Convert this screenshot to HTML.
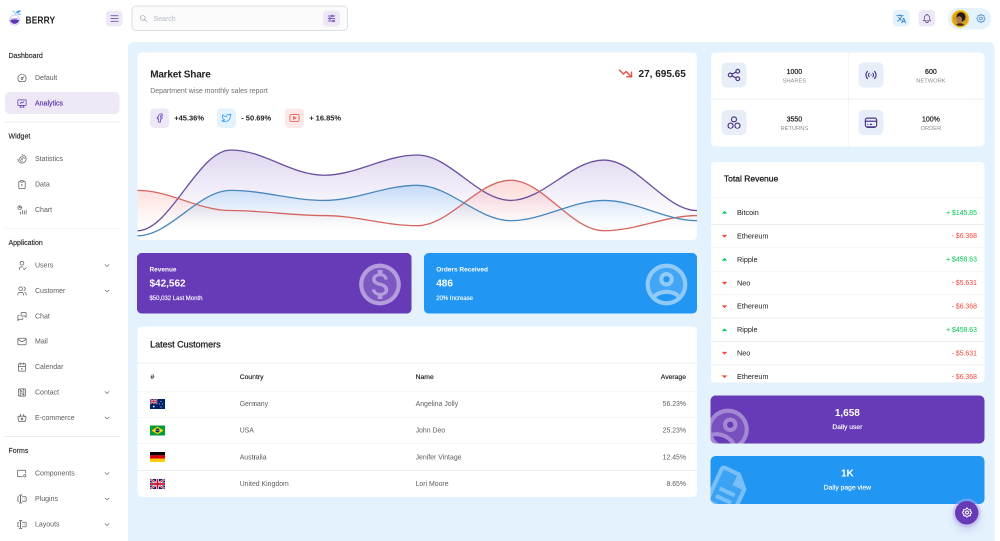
<!DOCTYPE html>
<html><head><meta charset="utf-8"><title>Berry - Analytics</title>
<style>
html,body{margin:0;padding:0;background:#fff;overflow:hidden;width:1000px;height:541px}
#w{position:absolute;left:0;top:0;width:2000px;height:1082px;transform:scale(0.5);transform-origin:0 0;overflow:hidden;will-change:transform;font-family:"Liberation Sans", Arial, sans-serif}
.t{position:absolute;line-height:1;white-space:nowrap}
.r{position:absolute}
.i{position:absolute;overflow:visible}
</style></head><body><div id="w">
<svg class="i" style="left:14px;top:16px" width="32" height="38" viewBox="0 0 32 38">
<circle cx="15.2" cy="24.2" r="10.2" fill="#fff" stroke="#c5cae9" stroke-width="1.6"/>
<path d="M6.2 24.5 Q15.2 20.5 24.2 24.5 A9.2 9.2 0 0 1 6.2 24.5z" fill="#5e35b1"/>
<path d="M7 22.5 Q15.2 19 23.4 22.5" fill="none" stroke="#b39ddb" stroke-width="1.4"/>
<path d="M15.5 14 L19 8" stroke="#90caf9" stroke-width="1.8" stroke-linecap="round"/>
<path d="M18 9.5 Q22 4 28 5 Q24 11 18 9.5z" fill="#1e88e5"/>
<path d="M19 11.5 Q24 10 28.5 12.5 Q23.5 15 19 11.5z" fill="#42a5f5"/>
<path d="M17 9 Q14 4.5 10 5.5 Q12.5 10 17 9z" fill="#90caf9"/>
</svg>
<div class="t" style="top:29.87px;font-size:20px;color:#212121;font-weight:700;left:51.00px;transform:scaleX(0.84);transform-origin:0 0;letter-spacing:0.3px;">BERRY</div>
<div class="r" style="left:212.00px;top:21.00px;width:33.00px;height:32.00px;background:#ede7f6;border-radius:8px;"></div>
<svg class="i" style="left:217.50px;top:26.00px;" width="22" height="22" viewBox="0 0 24 24" fill="none" stroke="#5a3e9e" stroke-width="1.9" stroke-linecap="round" stroke-linejoin="round"><path d="M4 6l16 0"/><path d="M4 12l16 0"/><path d="M4 18l16 0"/></svg>
<div class="r" style="left:263.00px;top:11.00px;width:433.00px;height:51.00px;background:#fbfbfc;border-radius:9px;border:2.5px solid #dcdfe4;box-sizing:border-box;"></div>
<svg class="i" style="left:279.00px;top:29.00px;" width="16" height="16" viewBox="0 0 24 24" fill="none" stroke="#8d96a3" stroke-width="1.8" stroke-linecap="round" stroke-linejoin="round"><path d="M10 10m-7 0a7 7 0 1 0 14 0a7 7 0 1 0 -14 0"/><path d="M21 21l-6 -6"/></svg>
<div class="t" style="top:30.15px;font-size:14px;color:#b4bcc7;left:307.00px;">Search</div>
<div class="r" style="left:646.00px;top:21.00px;width:34.00px;height:32.00px;background:#ede7f6;border-radius:8px;"></div>
<svg class="i" style="left:653.00px;top:27.00px;" width="20" height="20" viewBox="0 0 24 24" fill="none" stroke="#5e35b1" stroke-width="1.8" stroke-linecap="round" stroke-linejoin="round"><path d="M14 6m-2 0a2 2 0 1 0 4 0a2 2 0 1 0 -4 0"/><path d="M4 6l8 0"/><path d="M16 6l4 0"/><path d="M8 12m-2 0a2 2 0 1 0 4 0a2 2 0 1 0 -4 0"/><path d="M4 12l2 0"/><path d="M10 12l10 0"/><path d="M17 18m-2 0a2 2 0 1 0 4 0a2 2 0 1 0 -4 0"/><path d="M4 18l11 0"/><path d="M19 18l1 0"/></svg>
<div class="r" style="left:1786.00px;top:20.00px;width:33.00px;height:33.00px;background:#e3f2fd;border-radius:8px;"></div>
<svg class="i" style="left:1792.00px;top:26.50px;" width="21" height="21" viewBox="0 0 24 24" fill="#2a7fc9" stroke="none"><path d="M12.87 15.07l-2.54-2.51.03-.03c1.74-1.94 2.98-4.17 3.71-6.53H17V4h-7V2H8v2H1v1.99h11.17C11.5 7.92 10.44 9.75 9 11.35 8.07 10.32 7.3 9.19 6.69 8h-2c.73 1.63 1.73 3.17 2.98 4.56l-5.09 5.02L4 19l5-5 3.11 3.11.76-2.04zM18.5 10h-2L12 22h2l1.12-3h4.75L21 22h2l-4.5-12zm-2.62 7l1.62-4.33L19.12 17h-3.24z"/></svg>
<div class="r" style="left:1837.00px;top:20.00px;width:33.00px;height:33.00px;background:#ede7f6;border-radius:8px;"></div>
<svg class="i" style="left:1842.50px;top:26.00px;" width="22" height="22" viewBox="0 0 24 24" fill="none" stroke="#4f3a8f" stroke-width="1.5" stroke-linecap="round" stroke-linejoin="round"><path d="M10 5a2 2 0 1 1 4 0a7 7 0 0 1 4 6v3a4 4 0 0 0 2 3h-16a4 4 0 0 0 2 -3v-3a7 7 0 0 1 4 -6"/><path d="M9 17v1a3 3 0 0 0 6 0v-1"/></svg>
<div class="r" style="left:1895.60px;top:15.60px;width:86.40px;height:43.20px;background:#e3f2fd;border-radius:22px;"></div>
<svg class="i" style="left:1902.6px;top:19.6px" width="35" height="35" viewBox="0 0 35 35">
<defs><clipPath id="avc"><circle cx="17.5" cy="17.5" r="14.6"/></clipPath></defs>
<circle cx="17.5" cy="17.5" r="17.5" fill="#f2bb12"/>
<g clip-path="url(#avc)">
<rect width="35" height="35" fill="#d79f1c"/>
<ellipse cx="19" cy="14" rx="9" ry="9.5" fill="#231915"/>
<ellipse cx="15.5" cy="19.5" rx="5.6" ry="7" fill="#b27b5c"/>
<path d="M13 18 Q15.5 16.5 18 18" stroke="#6b4636" stroke-width="1" fill="none"/>
<path d="M4 36 Q8 26 17 26.5 Q26 26.5 31 36z" fill="#4a2f25"/>
</g>
</svg>
<svg class="i" style="left:1951.00px;top:26.00px;" width="22" height="22" viewBox="0 0 24 24" fill="none" stroke="#3f86c2" stroke-width="1.6" stroke-linecap="round" stroke-linejoin="round"><path d="M10.325 4.317c.426 -1.756 2.924 -1.756 3.35 0a1.724 1.724 0 0 0 2.573 1.066c1.543 -.94 3.31 .826 2.37 2.37a1.724 1.724 0 0 0 1.065 2.572c1.756 .426 1.756 2.924 0 3.35a1.724 1.724 0 0 0 -1.066 2.573c.94 1.543 -.826 3.31 -2.37 2.37a1.724 1.724 0 0 0 -2.572 1.065c-.426 1.756 -2.924 1.756 -3.35 0a1.724 1.724 0 0 0 -2.573 -1.066c-1.543 .94 -3.31 -.826 -2.37 -2.37a1.724 1.724 0 0 0 -1.065 -2.572c-1.756 -.426 -1.756 -2.924 0 -3.35a1.724 1.724 0 0 0 1.066 -2.573c-.94 -1.543 .826 -3.31 2.37 -2.37c1 .608 2.296 .07 2.572 -1.065z"/><path d="M9 12a3 3 0 1 0 6 0a3 3 0 0 0 -6 0"/></svg>
<div class="t" style="top:103.75px;font-size:14px;color:#2a2a2a;left:17.00px;-webkit-text-stroke:0.3px #2a2a2a;">Dashboard</div>
<svg class="i" style="left:33.00px;top:145.40px;" width="22" height="22" viewBox="0 0 24 24" fill="none" stroke="#5c5c5c" stroke-width="1.6" stroke-linecap="round" stroke-linejoin="round"><path d="M12 13m-2 0a2 2 0 1 0 4 0a2 2 0 1 0 -4 0"/><path d="M13.45 11.55l2.05 -2.05"/><path d="M6.4 20a9 9 0 1 1 11.2 0z"/></svg>
<div class="t" style="top:148.35px;font-size:14px;color:#5c5c5c;left:70.00px;">Default</div>
<div class="r" style="left:10.00px;top:184.00px;width:229.00px;height:44.00px;background:#ede7f6;border-radius:10px;"></div>
<svg class="i" style="left:33.00px;top:196.40px;" width="22" height="22" viewBox="0 0 24 24" fill="none" stroke="#5e35b1" stroke-width="1.6" stroke-linecap="round" stroke-linejoin="round"><path d="M3 4m0 1a1 1 0 0 1 1 -1h16a1 1 0 0 1 1 1v10a1 1 0 0 1 -1 1h-16a1 1 0 0 1 -1 -1z"/><path d="M7 20l10 0"/><path d="M9 16l0 4"/><path d="M15 16l0 4"/><path d="M8 12l3 -3l2 2l3 -3"/></svg>
<div class="t" style="top:199.35px;font-size:14px;color:#5e35b1;left:70.00px;-webkit-text-stroke:0.3px #5e35b1;">Analytics</div>
<div class="r" style="left:8.00px;top:243.40px;width:232.00px;height:1.50px;background:#eaedf1;border-radius:0px;"></div>
<div class="t" style="top:265.35px;font-size:14px;color:#2a2a2a;left:17.00px;-webkit-text-stroke:0.3px #2a2a2a;">Widget</div>
<svg class="i" style="left:33.00px;top:307.20px;" width="22" height="22" viewBox="0 0 24 24" fill="none" stroke="#5c5c5c" stroke-width="1.6" stroke-linecap="round" stroke-linejoin="round"><path d="M12 12m-1 0a1 1 0 1 0 2 0a1 1 0 1 0 -2 0"/><path d="M16.924 11.132a5 5 0 1 0 -4.056 5.792"/><path d="M3 12a9 9 0 1 0 9 -9"/></svg>
<div class="t" style="top:310.15px;font-size:14px;color:#5c5c5c;left:70.00px;">Statistics</div>
<svg class="i" style="left:33.00px;top:358.00px;" width="22" height="22" viewBox="0 0 24 24" fill="none" stroke="#5c5c5c" stroke-width="1.6" stroke-linecap="round" stroke-linejoin="round"><path d="M9 5h-2a2 2 0 0 0 -2 2v12a2 2 0 0 0 2 2h10a2 2 0 0 0 2 -2v-12a2 2 0 0 0 -2 -2h-2"/><path d="M9 3m0 2a2 2 0 0 1 2 -2h2a2 2 0 0 1 2 2v0a2 2 0 0 1 -2 2h-2a2 2 0 0 1 -2 -2z"/><path d="M11 12h1v4"/></svg>
<div class="t" style="top:360.95px;font-size:14px;color:#5c5c5c;left:70.00px;">Data</div>
<svg class="i" style="left:33.00px;top:409.00px;" width="22" height="22" viewBox="0 0 24 24" fill="none" stroke="#5c5c5c" stroke-width="1.6" stroke-linecap="round" stroke-linejoin="round"><path d="M7 7m-4 0a4 4 0 1 0 8 0a4 4 0 1 0 -8 0"/><path d="M7 3v4h4"/><path d="M9 17l0 4"/><path d="M17 14l0 7"/><path d="M13 13l0 8"/><path d="M21 12l0 9"/></svg>
<div class="t" style="top:411.95px;font-size:14px;color:#5c5c5c;left:70.00px;">Chart</div>
<div class="r" style="left:8.00px;top:456.60px;width:232.00px;height:1.50px;background:#eaedf1;border-radius:0px;"></div>
<div class="t" style="top:477.75px;font-size:14px;color:#2a2a2a;left:17.00px;-webkit-text-stroke:0.3px #2a2a2a;">Application</div>
<svg class="i" style="left:33.00px;top:519.80px;" width="22" height="22" viewBox="0 0 24 24" fill="none" stroke="#5c5c5c" stroke-width="1.6" stroke-linecap="round" stroke-linejoin="round"><path d="M8 7a4 4 0 1 0 8 0a4 4 0 0 0 -8 0"/><path d="M6 21v-2a4 4 0 0 1 4 -4h4"/><path d="M15 19l2 2l4 -4"/></svg>
<div class="t" style="top:522.75px;font-size:14px;color:#5c5c5c;left:70.00px;">Users</div>
<svg class="i" style="left:206.40px;top:522.80px;" width="16" height="16" viewBox="0 0 24 24" fill="none" stroke="#616161" stroke-width="1.8" stroke-linecap="round" stroke-linejoin="round"><path d="M6 9l6 6l6 -6"/></svg>
<svg class="i" style="left:33.00px;top:570.60px;" width="22" height="22" viewBox="0 0 24 24" fill="none" stroke="#5c5c5c" stroke-width="1.6" stroke-linecap="round" stroke-linejoin="round"><path d="M9 7m-4 0a4 4 0 1 0 8 0a4 4 0 1 0 -8 0"/><path d="M3 21v-2a4 4 0 0 1 4 -4h4a4 4 0 0 1 4 4v2"/><path d="M16 3.13a4 4 0 0 1 0 7.75"/><path d="M21 21v-2a4 4 0 0 0 -3 -3.85"/></svg>
<div class="t" style="top:573.55px;font-size:14px;color:#5c5c5c;left:70.00px;">Customer</div>
<svg class="i" style="left:206.40px;top:573.60px;" width="16" height="16" viewBox="0 0 24 24" fill="none" stroke="#616161" stroke-width="1.8" stroke-linecap="round" stroke-linejoin="round"><path d="M6 9l6 6l6 -6"/></svg>
<svg class="i" style="left:33.00px;top:621.60px;" width="22" height="22" viewBox="0 0 24 24" fill="none" stroke="#5c5c5c" stroke-width="1.6" stroke-linecap="round" stroke-linejoin="round"><path d="M21 14l-3 -3h-7a1 1 0 0 1 -1 -1v-6a1 1 0 0 1 1 -1h9a1 1 0 0 1 1 1v10"/><path d="M14 15v2a1 1 0 0 1 -1 1h-7l-3 3v-10a1 1 0 0 1 1 -1h2"/></svg>
<div class="t" style="top:624.55px;font-size:14px;color:#5c5c5c;left:70.00px;">Chat</div>
<svg class="i" style="left:33.00px;top:672.40px;" width="22" height="22" viewBox="0 0 24 24" fill="none" stroke="#5c5c5c" stroke-width="1.6" stroke-linecap="round" stroke-linejoin="round"><path d="M3 7a2 2 0 0 1 2 -2h14a2 2 0 0 1 2 2v10a2 2 0 0 1 -2 2h-14a2 2 0 0 1 -2 -2v-10z"/><path d="M3 7l9 6l9 -6"/></svg>
<div class="t" style="top:675.35px;font-size:14px;color:#5c5c5c;left:70.00px;">Mail</div>
<svg class="i" style="left:33.00px;top:723.40px;" width="22" height="22" viewBox="0 0 24 24" fill="none" stroke="#5c5c5c" stroke-width="1.6" stroke-linecap="round" stroke-linejoin="round"><path d="M4 7a2 2 0 0 1 2 -2h12a2 2 0 0 1 2 2v12a2 2 0 0 1 -2 2h-12a2 2 0 0 1 -2 -2v-12z"/><path d="M16 3v4"/><path d="M8 3v4"/><path d="M4 11h16"/><path d="M11 15h1"/><path d="M12 15v3"/></svg>
<div class="t" style="top:726.35px;font-size:14px;color:#5c5c5c;left:70.00px;">Calendar</div>
<svg class="i" style="left:33.00px;top:774.20px;" width="22" height="22" viewBox="0 0 24 24" fill="none" stroke="#5c5c5c" stroke-width="1.6" stroke-linecap="round" stroke-linejoin="round"><path d="M11 20a3 3 0 0 1 -3 -3v-11l5 5"/><path d="M13 4a3 3 0 0 1 3 3v11l-5 -5"/><path d="M4 4m0 3a3 3 0 0 1 3 -3h10a3 3 0 0 1 3 3v10a3 3 0 0 1 -3 3h-10a3 3 0 0 1 -3 -3z"/></svg>
<div class="t" style="top:777.15px;font-size:14px;color:#5c5c5c;left:70.00px;">Contact</div>
<svg class="i" style="left:206.40px;top:777.20px;" width="16" height="16" viewBox="0 0 24 24" fill="none" stroke="#616161" stroke-width="1.8" stroke-linecap="round" stroke-linejoin="round"><path d="M6 9l6 6l6 -6"/></svg>
<svg class="i" style="left:33.00px;top:825.20px;" width="22" height="22" viewBox="0 0 24 24" fill="none" stroke="#5c5c5c" stroke-width="1.6" stroke-linecap="round" stroke-linejoin="round"><path d="M10 14a2 2 0 1 0 4 0a2 2 0 0 0 -4 0"/><path d="M5.001 8h13.999a2 2 0 0 1 1.977 2.304l-1.255 7.152a3 3 0 0 1 -2.966 2.544h-9.512a3 3 0 0 1 -2.965 -2.544l-1.255 -7.152a2 2 0 0 1 1.977 -2.304z"/><path d="M17 10l-2 -6"/><path d="M7 10l2 -6"/></svg>
<div class="t" style="top:828.15px;font-size:14px;color:#5c5c5c;left:70.00px;">E-commerce</div>
<svg class="i" style="left:206.40px;top:828.20px;" width="16" height="16" viewBox="0 0 24 24" fill="none" stroke="#616161" stroke-width="1.8" stroke-linecap="round" stroke-linejoin="round"><path d="M6 9l6 6l6 -6"/></svg>
<div class="r" style="left:8.00px;top:872.40px;width:232.00px;height:1.50px;background:#eaedf1;border-radius:0px;"></div>
<div class="t" style="top:894.15px;font-size:14px;color:#2a2a2a;left:17.00px;-webkit-text-stroke:0.3px #2a2a2a;">Forms</div>
<svg class="i" style="left:33.00px;top:936.00px;" width="22" height="22" viewBox="0 0 24 24" fill="none" stroke="#5c5c5c" stroke-width="1.6" stroke-linecap="round" stroke-linejoin="round"><path d="M20 11v-4a2 2 0 0 0 -2 -2h-14a2 2 0 0 0 -2 2v10a2 2 0 0 0 2 2h9"/><path d="M18 17m-2.5 0a2.5 2.5 0 1 0 5 0a2.5 2.5 0 1 0 -5 0"/></svg>
<div class="t" style="top:938.95px;font-size:14px;color:#5c5c5c;left:70.00px;">Components</div>
<svg class="i" style="left:206.40px;top:939.00px;" width="16" height="16" viewBox="0 0 24 24" fill="none" stroke="#616161" stroke-width="1.8" stroke-linecap="round" stroke-linejoin="round"><path d="M6 9l6 6l6 -6"/></svg>
<svg class="i" style="left:33.00px;top:986.80px;" width="22" height="22" viewBox="0 0 24 24" fill="none" stroke="#5c5c5c" stroke-width="1.6" stroke-linecap="round" stroke-linejoin="round"><path d="M12 3a3 3 0 0 0 -3 3v12a3 3 0 0 0 3 3"/><path d="M6 3a3 3 0 0 1 3 3v12a3 3 0 0 1 -3 3"/><path d="M13 7h7a1 1 0 0 1 1 1v8a1 1 0 0 1 -1 1h-7"/><path d="M5 7h-1a1 1 0 0 0 -1 1v8a1 1 0 0 0 1 1h1"/><path d="M17 12h.01"/><path d="M13 12h.01"/></svg>
<div class="t" style="top:989.75px;font-size:14px;color:#5c5c5c;left:70.00px;">Plugins</div>
<svg class="i" style="left:206.40px;top:989.80px;" width="16" height="16" viewBox="0 0 24 24" fill="none" stroke="#616161" stroke-width="1.8" stroke-linecap="round" stroke-linejoin="round"><path d="M6 9l6 6l6 -6"/></svg>
<svg class="i" style="left:33.00px;top:1037.80px;" width="22" height="22" viewBox="0 0 24 24" fill="none" stroke="#5c5c5c" stroke-width="1.6" stroke-linecap="round" stroke-linejoin="round"><path d="M12 3a3 3 0 0 0 -3 3v12a3 3 0 0 0 3 3"/><path d="M6 3a3 3 0 0 1 3 3v12a3 3 0 0 1 -3 3"/><path d="M13 7h7a1 1 0 0 1 1 1v8a1 1 0 0 1 -1 1h-7"/><path d="M5 7h-1a1 1 0 0 0 -1 1v8a1 1 0 0 0 1 1h1"/><path d="M17 12h.01"/><path d="M13 12h.01"/></svg>
<div class="t" style="top:1040.75px;font-size:14px;color:#5c5c5c;left:70.00px;">Layouts</div>
<svg class="i" style="left:206.40px;top:1040.80px;" width="16" height="16" viewBox="0 0 24 24" fill="none" stroke="#616161" stroke-width="1.8" stroke-linecap="round" stroke-linejoin="round"><path d="M6 9l6 6l6 -6"/></svg>
<div class="r" style="left:256.00px;top:84.00px;width:1733.20px;height:1100.00px;background:#e3f2fd;border-radius:12px;border-bottom-left-radius:0;border-bottom-right-radius:0;"></div>
<div class="r" style="left:275px;top:104.6px;width:1119.4px;height:375.4px;background:#fff;border-radius:8px;overflow:hidden">
<svg style="position:absolute;left:0;top:0" width="1119.4" height="375.4" viewBox="0 0 1119.4 375.4"><defs><linearGradient id="g0" x1="0" y1="0" x2="0" y2="1"><stop offset="0" stop-color="#673ab7" stop-opacity="0.2"/><stop offset="0.35" stop-color="#673ab7" stop-opacity="0.11"/><stop offset="0.6" stop-color="#673ab7" stop-opacity="0.04"/><stop offset="0.8" stop-color="#673ab7" stop-opacity="0"/></linearGradient><linearGradient id="g1" x1="0" y1="0" x2="0" y2="1"><stop offset="0" stop-color="#f44336" stop-opacity="0.2"/><stop offset="0.35" stop-color="#f44336" stop-opacity="0.11"/><stop offset="0.6" stop-color="#f44336" stop-opacity="0.04"/><stop offset="0.8" stop-color="#f44336" stop-opacity="0"/></linearGradient><linearGradient id="g2" x1="0" y1="0" x2="0" y2="1"><stop offset="0" stop-color="#2196f3" stop-opacity="0.2"/><stop offset="0.35" stop-color="#2196f3" stop-opacity="0.11"/><stop offset="0.6" stop-color="#2196f3" stop-opacity="0.04"/><stop offset="0.8" stop-color="#2196f3" stop-opacity="0"/></linearGradient></defs><path d="M0.00 356.44 C65.30 356.44 121.27 194.98 186.57 194.98 C251.87 194.98 307.84 245.44 373.13 245.44 C438.43 245.44 494.40 205.07 559.70 205.07 C625.00 205.07 680.97 295.89 746.27 295.89 C811.57 295.89 867.54 215.16 932.83 215.16 C998.13 215.16 1054.10 316.07 1119.40 316.07 L1119.40 375.40 L0 375.40z" fill="url(#g0)"/><path d="M0.00 275.71 C65.30 275.71 121.27 316.07 186.57 316.07 C251.87 316.07 307.84 326.16 373.13 326.16 C438.43 326.16 494.40 346.35 559.70 346.35 C625.00 346.35 680.97 255.53 746.27 255.53 C811.57 255.53 867.54 356.44 932.83 356.44 C998.13 356.44 1054.10 326.16 1119.40 326.16 L1119.40 375.40 L0 375.40z" fill="url(#g1)"/><path d="M0.00 366.53 C65.30 366.53 121.27 275.71 186.57 275.71 C251.87 275.71 307.84 295.89 373.13 295.89 C438.43 295.89 494.40 265.62 559.70 265.62 C625.00 265.62 680.97 336.25 746.27 336.25 C811.57 336.25 867.54 295.89 932.83 295.89 C998.13 295.89 1054.10 336.25 1119.40 336.25 L1119.40 375.40 L0 375.40z" fill="url(#g2)"/><path d="M0.00 356.44 C65.30 356.44 121.27 194.98 186.57 194.98 C251.87 194.98 307.84 245.44 373.13 245.44 C438.43 245.44 494.40 205.07 559.70 205.07 C625.00 205.07 680.97 295.89 746.27 295.89 C811.57 295.89 867.54 215.16 932.83 215.16 C998.13 215.16 1054.10 316.07 1119.40 316.07" fill="none" stroke="#6a509c" stroke-width="2.6"/><path d="M0.00 275.71 C65.30 275.71 121.27 316.07 186.57 316.07 C251.87 316.07 307.84 326.16 373.13 326.16 C438.43 326.16 494.40 346.35 559.70 346.35 C625.00 346.35 680.97 255.53 746.27 255.53 C811.57 255.53 867.54 356.44 932.83 356.44 C998.13 356.44 1054.10 326.16 1119.40 326.16" fill="none" stroke="#d6655d" stroke-width="2.6"/><path d="M0.00 366.53 C65.30 366.53 121.27 275.71 186.57 275.71 C251.87 275.71 307.84 295.89 373.13 295.89 C438.43 295.89 494.40 265.62 559.70 265.62 C625.00 265.62 680.97 336.25 746.27 336.25 C811.57 336.25 867.54 295.89 932.83 295.89 C998.13 295.89 1054.10 336.25 1119.40 336.25" fill="none" stroke="#4888bd" stroke-width="2.6"/></svg>
</div>
<div class="t" style="top:138.47px;font-size:20px;color:#212121;font-weight:700;left:300.40px;letter-spacing:-0.4px;">Market Share</div>
<div class="t" style="top:174.15px;font-size:14px;color:#707070;left:300.40px;">Department wise monthly sales report</div>
<svg class="i" style="left:1235.00px;top:130.50px;" width="32" height="32" viewBox="0 0 24 24" fill="none" stroke="#e0524a" stroke-width="2.1" stroke-linecap="round" stroke-linejoin="round"><path d="M3 7l6 6l4 -4l8 8"/><path d="M21 10l0 7l-7 0"/></svg>
<div class="t" style="top:137.47px;font-size:20px;color:#212121;font-weight:700;right:628.40px;text-align:right;">27, 695.65</div>
<div class="r" style="left:300.40px;top:216.60px;width:38.00px;height:38.00px;background:#ede7f6;border-radius:8px;"></div>
<svg class="i" style="left:308.40px;top:224.60px;" width="22" height="22" viewBox="0 0 24 24" fill="none" stroke="#673ab7" stroke-width="1.6" stroke-linecap="round" stroke-linejoin="round"><path d="M7 10v4h3v7h4v-7h3l1 -4h-4v-2a1 1 0 0 1 1 -1h3v-4h-3a5 5 0 0 0 -5 5v2h-3"/></svg>
<div class="t" style="top:228.30px;font-size:15px;color:#212121;font-weight:700;left:348.40px;">+45.36%</div>
<div class="r" style="left:434.40px;top:216.60px;width:38.00px;height:38.00px;background:#e3f2fd;border-radius:8px;"></div>
<svg class="i" style="left:442.40px;top:224.60px;" width="22" height="22" viewBox="0 0 24 24" fill="none" stroke="#2196f3" stroke-width="1.6" stroke-linecap="round" stroke-linejoin="round"><path d="M22 4.01c-1 .49 -1.98 .689 -3 .99c-1.121 -1.265 -2.783 -1.335 -4.38 -.737s-2.643 2.06 -2.62 3.737v1c-3.245 .083 -6.135 -1.395 -8 -4c0 0 -4.182 7.433 4 11c-1.872 1.247 -3.739 2.088 -6 2c3.308 1.803 6.913 2.423 10.034 1.517c3.58 -1.04 6.522 -3.723 7.651 -7.742a13.84 13.84 0 0 0 .497 -3.753c0 -.249 1.51 -2.772 1.818 -4.013z"/></svg>
<div class="t" style="top:228.30px;font-size:15px;color:#212121;font-weight:700;left:482.40px;">- 50.69%</div>
<div class="r" style="left:570.40px;top:216.60px;width:38.00px;height:38.00px;background:#fde8e7;border-radius:8px;"></div>
<svg class="i" style="left:578.40px;top:224.60px;" width="22" height="22" viewBox="0 0 24 24" fill="none" stroke="#f44336" stroke-width="1.6" stroke-linecap="round" stroke-linejoin="round"><path d="M2 8a4 4 0 0 1 4 -4h12a4 4 0 0 1 4 4v8a4 4 0 0 1 -4 4h-12a4 4 0 0 1 -4 -4v-8z"/><path d="M10 9l5 3l-5 3z"/></svg>
<div class="t" style="top:228.30px;font-size:15px;color:#212121;font-weight:700;left:618.40px;">+ 16.85%</div>
<div class="r" style="left:274.40px;top:506.20px;width:548.80px;height:121.00px;background:#673ab7;border-radius:9px;overflow:hidden"></div>
<div class="t" style="top:532.00px;font-size:13px;color:#fff;font-weight:700;left:298.90px;">Revenue</div>
<div class="t" style="top:555.67px;font-size:20px;color:#fff;font-weight:700;left:298.90px;">$42,562</div>
<div class="t" style="top:589.64px;font-size:12px;color:#fff;left:298.90px;-webkit-text-stroke:0.25px #fff;">$50,032 Last Month</div>
<svg class="i" style="left:710.00px;top:518.60px;opacity:0.5" width="100" height="100" viewBox="0 0 24 24" fill="#fff" stroke="none"><path opacity=".3" d="M12 4c-4.41 0-8 3.59-8 8s3.59 8 8 8 8-3.59 8-8-3.59-8-8-8zm1.23 13.33V19H10.9v-1.69c-1.5-.31-2.77-1.28-2.86-2.97h1.71c.09.92.72 1.64 2.32 1.64 1.71 0 2.1-.86 2.1-1.39 0-.73-.39-1.41-2.34-1.87-2.17-.52-3.66-1.42-3.66-3.21 0-1.51 1.22-2.48 2.72-2.81V5h2.34v1.71c1.63.39 2.44 1.63 2.49 2.97h-1.71c-.04-.97-.56-1.64-1.94-1.64-1.31 0-2.1.59-2.1 1.43 0 .73.57 1.22 2.34 1.67 1.77.46 3.66 1.22 3.66 3.42-.01 1.6-1.21 2.48-2.74 2.77z"/><path d="M12 2C6.48 2 2 6.48 2 12s4.48 10 10 10 10-4.48 10-10S17.52 2 12 2zm0 18c-4.41 0-8-3.59-8-8s3.59-8 8-8 8 3.59 8 8-3.59 8-8 8zm.31-8.86c-1.77-.45-2.34-.94-2.34-1.67 0-.84.79-1.43 2.1-1.43 1.38 0 1.9.66 1.94 1.64h1.71c-.05-1.34-.87-2.57-2.49-2.97V5H10.9v1.69c-1.51.32-2.72 1.3-2.72 2.81 0 1.79 1.49 2.69 3.66 3.21 1.95.46 2.34 1.15 2.34 1.87 0 .53-.39 1.39-2.1 1.39-1.6 0-2.23-.72-2.32-1.64H8.04c.1 1.7 1.36 2.66 2.86 2.97V19h2.34v-1.67c1.52-.29 2.72-1.16 2.73-2.77-.01-2.2-1.9-2.96-3.66-3.42z"/></svg>
<div class="r" style="left:848.00px;top:506.20px;width:546.40px;height:121.00px;background:#2196f3;border-radius:9px;overflow:hidden"></div>
<div class="t" style="top:532.00px;font-size:13px;color:#fff;font-weight:700;left:872.50px;">Orders Received</div>
<div class="t" style="top:555.67px;font-size:20px;color:#fff;font-weight:700;left:872.50px;">486</div>
<div class="t" style="top:589.64px;font-size:12px;color:#fff;left:872.50px;-webkit-text-stroke:0.25px #fff;">20% Increase</div>
<svg class="i" style="left:1282.80px;top:518.60px;opacity:0.5" width="100" height="100" viewBox="0 0 24 24" fill="#fff" stroke="none"><path opacity=".3" d="M12 4c-4.42 0-8 3.58-8 8 0 1.95.7 3.73 1.86 5.12C7.55 15.8 9.68 15 12 15s4.45.8 6.14 2.12C19.3 15.73 20 13.95 20 12c0-4.42-3.58-8-8-8zm0 9c-1.93 0-3.5-1.57-3.5-3.5S10.07 6 12 6s3.5 1.57 3.5 3.5S13.93 13 12 13z"/><path d="M12 2C6.48 2 2 6.48 2 12s4.48 10 10 10 10-4.48 10-10S17.52 2 12 2zM7.07 18.28c.43-.9 3.05-1.78 4.93-1.78s4.51.88 4.93 1.78C15.57 19.36 13.86 20 12 20s-3.57-.64-4.93-1.72zm11.29-1.45c-1.43-1.74-4.9-2.33-6.36-2.33s-4.93.59-6.36 2.33C4.62 15.49 4 13.82 4 12c0-4.41 3.59-8 8-8s8 3.59 8 8c0 1.82-.62 3.49-1.64 4.83zM12 6c-1.94 0-3.5 1.56-3.5 3.5S10.06 13 12 13s3.5-1.56 3.5-3.5S13.94 6 12 6zm0 5c-.83 0-1.5-.67-1.5-1.5S11.17 8 12 8s1.5.67 1.5 1.5S12.83 11 12 11z"/></svg>
<div class="r" style="left:275.00px;top:653.20px;width:1119.40px;height:340.60px;background:#fff;border-radius:8px;"></div>
<div class="t" style="top:680.36px;font-size:18px;color:#212121;left:300.20px;-webkit-text-stroke:0.55px #212121;">Latest Customers</div>
<div class="r" style="left:275.00px;top:725.20px;width:1119.40px;height:1.50px;background:#eaedf1;border-radius:0px;"></div>
<div class="t" style="top:747.09px;font-size:13.6px;color:#212121;left:301.00px;-webkit-text-stroke:0.35px #212121;">#</div>
<div class="t" style="top:747.09px;font-size:13.6px;color:#212121;left:479.40px;-webkit-text-stroke:0.35px #212121;">Country</div>
<div class="t" style="top:747.09px;font-size:13.6px;color:#212121;left:831.20px;-webkit-text-stroke:0.35px #212121;">Name</div>
<div class="t" style="top:747.09px;font-size:13.6px;color:#212121;right:628.00px;text-align:right;-webkit-text-stroke:0.35px #212121;">Average</div>
<div class="r" style="left:275.00px;top:781.65px;width:1119.40px;height:1.50px;background:#eaedf1;border-radius:0px;"></div>
<div class="r" style="left:275.00px;top:834.85px;width:1119.40px;height:1.50px;background:#eaedf1;border-radius:0px;"></div>
<div class="r" style="left:275.00px;top:886.85px;width:1119.40px;height:1.50px;background:#eaedf1;border-radius:0px;"></div>
<div class="r" style="left:275.00px;top:940.05px;width:1119.40px;height:1.50px;background:#eaedf1;border-radius:0px;"></div>
<svg class="i" style="left:300px;top:797.8px" width="30" height="20" viewBox="0 0 30 20"><rect width="30" height="20" fill="#012169"/><path d="M0 0L15 10M15 0L0 10" stroke="#fff" stroke-width="2"/><path d="M0 0L15 10M15 0L0 10" stroke="#c8102e" stroke-width="1"/><path d="M7.5 0v10M0 5h15" stroke="#fff" stroke-width="3"/><path d="M7.5 0v10M0 5h15" stroke="#c8102e" stroke-width="1.6"/><circle cx="7.5" cy="15" r="1.8" fill="#fff"/><circle cx="22" cy="5" r="1" fill="#fff"/><circle cx="25" cy="10" r="1" fill="#fff"/><circle cx="22" cy="16" r="1.1" fill="#fff"/><circle cx="19" cy="10" r="0.9" fill="#fff"/></svg>
<div class="t" style="top:801.12px;font-size:13.8px;color:#5e5e5e;left:479.40px;">Germany</div>
<div class="t" style="top:801.12px;font-size:13.8px;color:#5e5e5e;left:831.20px;">Angelina Jolly</div>
<div class="t" style="top:801.12px;font-size:13.8px;color:#5e5e5e;right:628.00px;text-align:right;">56.23%</div>
<svg class="i" style="left:300px;top:851.0px" width="30" height="20" viewBox="0 0 30 20"><rect width="30" height="20" fill="#009c3b"/><path d="M15 2.5L27 10L15 17.5L3 10z" fill="#ffdf00"/><circle cx="15" cy="10" r="4.3" fill="#002776"/><path d="M11 9.2Q15 8.2 19 10.6" stroke="#fff" stroke-width="0.8" fill="none"/></svg>
<div class="t" style="top:854.32px;font-size:13.8px;color:#5e5e5e;left:479.40px;">USA</div>
<div class="t" style="top:854.32px;font-size:13.8px;color:#5e5e5e;left:831.20px;">John Deo</div>
<div class="t" style="top:854.32px;font-size:13.8px;color:#5e5e5e;right:628.00px;text-align:right;">25.23%</div>
<svg class="i" style="left:300px;top:904.2px" width="30" height="20" viewBox="0 0 30 20"><rect width="30" height="6.67" fill="#000"/><rect y="6.67" width="30" height="6.67" fill="#dd0000"/><rect y="13.33" width="30" height="6.67" fill="#ffce00"/></svg>
<div class="t" style="top:907.52px;font-size:13.8px;color:#5e5e5e;left:479.40px;">Australia</div>
<div class="t" style="top:907.52px;font-size:13.8px;color:#5e5e5e;left:831.20px;">Jenifer Vintage</div>
<div class="t" style="top:907.52px;font-size:13.8px;color:#5e5e5e;right:628.00px;text-align:right;">12.45%</div>
<svg class="i" style="left:300px;top:957.6px" width="30" height="20" viewBox="0 0 30 20"><rect width="30" height="20" fill="#012169"/><path d="M0 0L30 20M30 0L0 20" stroke="#fff" stroke-width="4"/><path d="M0 0L30 20M30 0L0 20" stroke="#c8102e" stroke-width="1.6"/><path d="M15 0v20M0 10h30" stroke="#fff" stroke-width="6"/><path d="M15 0v20M0 10h30" stroke="#c8102e" stroke-width="3.4"/></svg>
<div class="t" style="top:960.92px;font-size:13.8px;color:#5e5e5e;left:479.40px;">United Kingdom</div>
<div class="t" style="top:960.92px;font-size:13.8px;color:#5e5e5e;left:831.20px;">Lori Moore</div>
<div class="t" style="top:960.92px;font-size:13.8px;color:#5e5e5e;right:628.00px;text-align:right;">8.65%</div>
<div class="r" style="left:1422.00px;top:105.00px;width:546.80px;height:188.20px;background:#fff;border-radius:8px;"></div>
<div class="r" style="left:1422.00px;top:197.00px;width:546.00px;height:1.50px;background:#eaedf1;border-radius:0px;"></div>
<div class="r" style="left:1695.50px;top:105.00px;width:1.50px;height:188.20px;background:#eaedf1;border-radius:0px;"></div>
<div class="r" style="left:1443.40px;top:124.60px;width:50.00px;height:50.00px;background:#e8eef8;border-radius:10px;"></div>
<svg class="i" style="left:1453.40px;top:134.60px;" width="30" height="30" viewBox="0 0 24 24" fill="none" stroke="#4e3a8c" stroke-width="1.9" stroke-linecap="round" stroke-linejoin="round"><path d="M6 12m-3 0a3 3 0 1 0 6 0a3 3 0 1 0 -6 0"/><path d="M18 6m-3 0a3 3 0 1 0 6 0a3 3 0 1 0 -6 0"/><path d="M18 18m-3 0a3 3 0 1 0 6 0a3 3 0 1 0 -6 0"/><path d="M8.7 10.7l6.6 -3.4"/><path d="M8.7 13.3l6.6 3.4"/></svg>
<div class="t" style="top:135.75px;font-size:14px;color:#212121;left:1288.80px;width:600px;text-align:center;-webkit-text-stroke:0.45px #212121;">1000</div>
<div class="t" style="top:155.87px;font-size:11.5px;color:#8e8e8e;left:1288.80px;width:600px;text-align:center;">SHARES</div>
<div class="r" style="left:1717.40px;top:124.60px;width:50.00px;height:50.00px;background:#e8eef8;border-radius:10px;"></div>
<svg class="i" style="left:1727.40px;top:134.60px;" width="30" height="30" viewBox="0 0 24 24" fill="none" stroke="#4e3a8c" stroke-width="1.9" stroke-linecap="round" stroke-linejoin="round"><path d="M12 12l0 .01"/><path d="M14.828 9.172a4 4 0 0 1 0 5.656"/><path d="M17.657 6.343a8 8 0 0 1 0 11.314"/><path d="M9.168 14.828a4 4 0 0 1 0 -5.656"/><path d="M6.337 17.657a8 8 0 0 1 0 -11.314"/></svg>
<div class="t" style="top:135.75px;font-size:14px;color:#212121;left:1561.80px;width:600px;text-align:center;-webkit-text-stroke:0.45px #212121;">600</div>
<div class="t" style="top:155.87px;font-size:11.5px;color:#8e8e8e;left:1561.80px;width:600px;text-align:center;">NETWORK</div>
<div class="r" style="left:1443.40px;top:220.00px;width:50.00px;height:50.00px;background:#e8eef8;border-radius:10px;"></div>
<svg class="i" style="left:1453.40px;top:230.00px;" width="30" height="30" viewBox="0 0 24 24" fill="none" stroke="#4e3a8c" stroke-width="1.9" stroke-linecap="round" stroke-linejoin="round"><path d="M12 7m-4 0a4 4 0 1 0 8 0a4 4 0 1 0 -8 0"/><path d="M6.5 17m-4 0a4 4 0 1 0 8 0a4 4 0 1 0 -8 0"/><path d="M17.5 17m-4 0a4 4 0 1 0 8 0a4 4 0 1 0 -8 0"/></svg>
<div class="t" style="top:231.15px;font-size:14px;color:#212121;left:1288.80px;width:600px;text-align:center;-webkit-text-stroke:0.45px #212121;">3550</div>
<div class="t" style="top:251.27px;font-size:11.5px;color:#8e8e8e;left:1288.80px;width:600px;text-align:center;">RETURNS</div>
<div class="r" style="left:1717.40px;top:220.00px;width:50.00px;height:50.00px;background:#e8eef8;border-radius:10px;"></div>
<svg class="i" style="left:1727.40px;top:230.00px;" width="30" height="30" viewBox="0 0 24 24" fill="none" stroke="#4e3a8c" stroke-width="1.9" stroke-linecap="round" stroke-linejoin="round"><path d="M3 5m0 3a3 3 0 0 1 3 -3h12a3 3 0 0 1 3 3v8a3 3 0 0 1 -3 3h-12a3 3 0 0 1 -3 -3z"/><path d="M3 10l18 0"/><path d="M7 15l.01 0"/><path d="M11 15l2 0"/></svg>
<div class="t" style="top:231.15px;font-size:14px;color:#212121;left:1561.80px;width:600px;text-align:center;-webkit-text-stroke:0.45px #212121;">100%</div>
<div class="t" style="top:251.27px;font-size:11.5px;color:#8e8e8e;left:1561.80px;width:600px;text-align:center;">ORDER</div>
<div class="r" style="left:1422.00px;top:324.40px;width:546.80px;height:440.80px;background:#fff;border-radius:8px;overflow:hidden"></div>
<div class="t" style="top:349.41px;font-size:17px;color:#212121;left:1447.80px;-webkit-text-stroke:0.6px #212121;">Total Revenue</div>
<div class="r" style="left:1422.00px;top:393.60px;width:546.00px;height:1.50px;background:#eaedf1;border-radius:0px;"></div>
<svg class="i" style="left:1436.00px;top:412.20px;" width="26" height="26" viewBox="0 0 24 24" fill="#00c853" stroke="none"><path d="M7 14l5-5 5 5z"/></svg>
<div class="t" style="top:417.93px;font-size:14.5px;color:#212121;left:1474.00px;">Bitcoin</div>
<div class="t" style="top:418.56px;font-size:13.75px;color:#00c853;right:46.20px;text-align:right;">+ $145.85</div>
<div class="r" style="left:1422.00px;top:448.00px;width:546.00px;height:1.50px;background:#eaedf1;border-radius:0px;"></div>
<svg class="i" style="left:1436.00px;top:459.06px;" width="26" height="26" viewBox="0 0 24 24" fill="#f44336" stroke="none"><path d="M7 10l5 5 5-5z"/></svg>
<div class="t" style="top:464.79px;font-size:14.5px;color:#212121;left:1474.00px;">Ethereum</div>
<div class="t" style="top:465.42px;font-size:13.75px;color:#f44336;right:46.20px;text-align:right;">- $6.368</div>
<div class="r" style="left:1422.00px;top:494.86px;width:546.00px;height:1.50px;background:#eaedf1;border-radius:0px;"></div>
<svg class="i" style="left:1436.00px;top:505.92px;" width="26" height="26" viewBox="0 0 24 24" fill="#00c853" stroke="none"><path d="M7 14l5-5 5 5z"/></svg>
<div class="t" style="top:511.65px;font-size:14.5px;color:#212121;left:1474.00px;">Ripple</div>
<div class="t" style="top:512.28px;font-size:13.75px;color:#00c853;right:46.20px;text-align:right;">+ $458.63</div>
<div class="r" style="left:1422.00px;top:541.72px;width:546.00px;height:1.50px;background:#eaedf1;border-radius:0px;"></div>
<svg class="i" style="left:1436.00px;top:552.78px;" width="26" height="26" viewBox="0 0 24 24" fill="#f44336" stroke="none"><path d="M7 10l5 5 5-5z"/></svg>
<div class="t" style="top:558.51px;font-size:14.5px;color:#212121;left:1474.00px;">Neo</div>
<div class="t" style="top:559.14px;font-size:13.75px;color:#f44336;right:46.20px;text-align:right;">- $5.631</div>
<div class="r" style="left:1422.00px;top:588.58px;width:546.00px;height:1.50px;background:#eaedf1;border-radius:0px;"></div>
<svg class="i" style="left:1436.00px;top:599.64px;" width="26" height="26" viewBox="0 0 24 24" fill="#f44336" stroke="none"><path d="M7 10l5 5 5-5z"/></svg>
<div class="t" style="top:605.37px;font-size:14.5px;color:#212121;left:1474.00px;">Ethereum</div>
<div class="t" style="top:606.00px;font-size:13.75px;color:#f44336;right:46.20px;text-align:right;">- $6.368</div>
<div class="r" style="left:1422.00px;top:635.44px;width:546.00px;height:1.50px;background:#eaedf1;border-radius:0px;"></div>
<svg class="i" style="left:1436.00px;top:646.50px;" width="26" height="26" viewBox="0 0 24 24" fill="#00c853" stroke="none"><path d="M7 14l5-5 5 5z"/></svg>
<div class="t" style="top:652.23px;font-size:14.5px;color:#212121;left:1474.00px;">Ripple</div>
<div class="t" style="top:652.86px;font-size:13.75px;color:#00c853;right:46.20px;text-align:right;">+ $458.63</div>
<div class="r" style="left:1422.00px;top:682.30px;width:546.00px;height:1.50px;background:#eaedf1;border-radius:0px;"></div>
<svg class="i" style="left:1436.00px;top:693.36px;" width="26" height="26" viewBox="0 0 24 24" fill="#f44336" stroke="none"><path d="M7 10l5 5 5-5z"/></svg>
<div class="t" style="top:699.09px;font-size:14.5px;color:#212121;left:1474.00px;">Neo</div>
<div class="t" style="top:699.72px;font-size:13.75px;color:#f44336;right:46.20px;text-align:right;">- $5.631</div>
<div class="r" style="left:1422.00px;top:729.16px;width:546.00px;height:1.50px;background:#eaedf1;border-radius:0px;"></div>
<svg class="i" style="left:1436.00px;top:740.22px;" width="26" height="26" viewBox="0 0 24 24" fill="#f44336" stroke="none"><path d="M7 10l5 5 5-5z"/></svg>
<div class="t" style="top:745.95px;font-size:14.5px;color:#212121;left:1474.00px;">Ethereum</div>
<div class="t" style="top:746.58px;font-size:13.75px;color:#f44336;right:46.20px;text-align:right;">- $6.368</div>
<div class="r" style="left:1421.4px;top:791px;width:547.4px;height:96px;background:#673ab7;border-radius:10px;overflow:hidden">
<svg style="position:absolute;left:-15.5px;bottom:-22px;transform:rotate(25deg);opacity:0.4" width="100" height="100" viewBox="0 0 24 24" fill="#fff"><path opacity=".3" d="M12 4c-4.42 0-8 3.58-8 8 0 1.95.7 3.73 1.86 5.12C7.55 15.8 9.68 15 12 15s4.45.8 6.14 2.12C19.3 15.73 20 13.95 20 12c0-4.42-3.58-8-8-8zm0 9c-1.93 0-3.5-1.57-3.5-3.5S10.07 6 12 6s3.5 1.57 3.5 3.5S13.93 13 12 13z"/><path d="M12 2C6.48 2 2 6.48 2 12s4.48 10 10 10 10-4.48 10-10S17.52 2 12 2zM7.07 18.28c.43-.9 3.05-1.78 4.93-1.78s4.51.88 4.93 1.78C15.57 19.36 13.86 20 12 20s-3.57-.64-4.93-1.72zm11.29-1.45c-1.43-1.74-4.9-2.33-6.36-2.33s-4.93.59-6.36 2.33C4.62 15.49 4 13.82 4 12c0-4.41 3.59-8 8-8s8 3.59 8 8c0 1.82-.62 3.49-1.64 4.83zM12 6c-1.94 0-3.5 1.56-3.5 3.5S10.06 13 12 13s3.5-1.56 3.5-3.5S13.94 6 12 6zm0 5c-.83 0-1.5-.67-1.5-1.5S11.17 8 12 8s1.5.67 1.5 1.5S12.83 11 12 11z"/></svg>
</div>
<div class="t" style="top:815.07px;font-size:20px;color:#fff;font-weight:700;left:1394.70px;width:600px;text-align:center;">1,658</div>
<div class="t" style="top:846.57px;font-size:13.5px;color:#fff;left:1394.70px;width:600px;text-align:center;-webkit-text-stroke:0.3px #fff;">Daily user</div>
<div class="r" style="left:1421.4px;top:912px;width:547.4px;height:96px;background:#2196f3;border-radius:10px;overflow:hidden">
<svg style="position:absolute;left:-15.5px;bottom:-22px;transform:rotate(25deg);opacity:0.4" width="100" height="100" viewBox="0 0 24 24" fill="#fff"><path opacity=".3" d="M13 4H6v16h12V9h-5V4zm3 14H8v-2h8v2zm0-6v2H8v-2h8z"/><path d="M8 16h8v2H8zm0-4h8v2H8zm6-10H6c-1.1 0-2 .9-2 2v16c0 1.1.89 2 1.99 2H18c1.1 0 2-.9 2-2V8l-6-6zm4 18H6V4h7v5h5v11z"/></svg>
</div>
<div class="t" style="top:936.07px;font-size:20px;color:#fff;font-weight:700;left:1394.70px;width:600px;text-align:center;">1K</div>
<div class="t" style="top:967.57px;font-size:13.5px;color:#fff;left:1394.70px;width:600px;text-align:center;-webkit-text-stroke:0.3px #fff;">Daily page view</div>
<div class="r" style="left:1910.20px;top:1001.80px;width:47.20px;height:47.20px;background:#673ab7;border-radius:24px;box-shadow:0 0 0 5px rgba(190,170,235,0.45),0 10px 18px rgba(103,58,183,0.22);"></div>
<svg class="i" style="left:1921.80px;top:1013.40px;" width="24" height="24" viewBox="0 0 24 24" fill="none" stroke="#fff" stroke-width="2.1" stroke-linecap="round" stroke-linejoin="round"><path d="M10.325 4.317c.426 -1.756 2.924 -1.756 3.35 0a1.724 1.724 0 0 0 2.573 1.066c1.543 -.94 3.31 .826 2.37 2.37a1.724 1.724 0 0 0 1.065 2.572c1.756 .426 1.756 2.924 0 3.35a1.724 1.724 0 0 0 -1.066 2.573c.94 1.543 -.826 3.31 -2.37 2.37a1.724 1.724 0 0 0 -2.572 1.065c-.426 1.756 -2.924 1.756 -3.35 0a1.724 1.724 0 0 0 -2.573 -1.066c-1.543 .94 -3.31 -.826 -2.37 -2.37a1.724 1.724 0 0 0 -1.065 -2.572c-1.756 -.426 -1.756 -2.924 0 -3.35a1.724 1.724 0 0 0 1.066 -2.573c-.94 -1.543 .826 -3.31 2.37 -2.37c1 .608 2.296 .07 2.572 -1.065z"/><path d="M9 12a3 3 0 1 0 6 0a3 3 0 0 0 -6 0"/></svg>
</div></body></html>
